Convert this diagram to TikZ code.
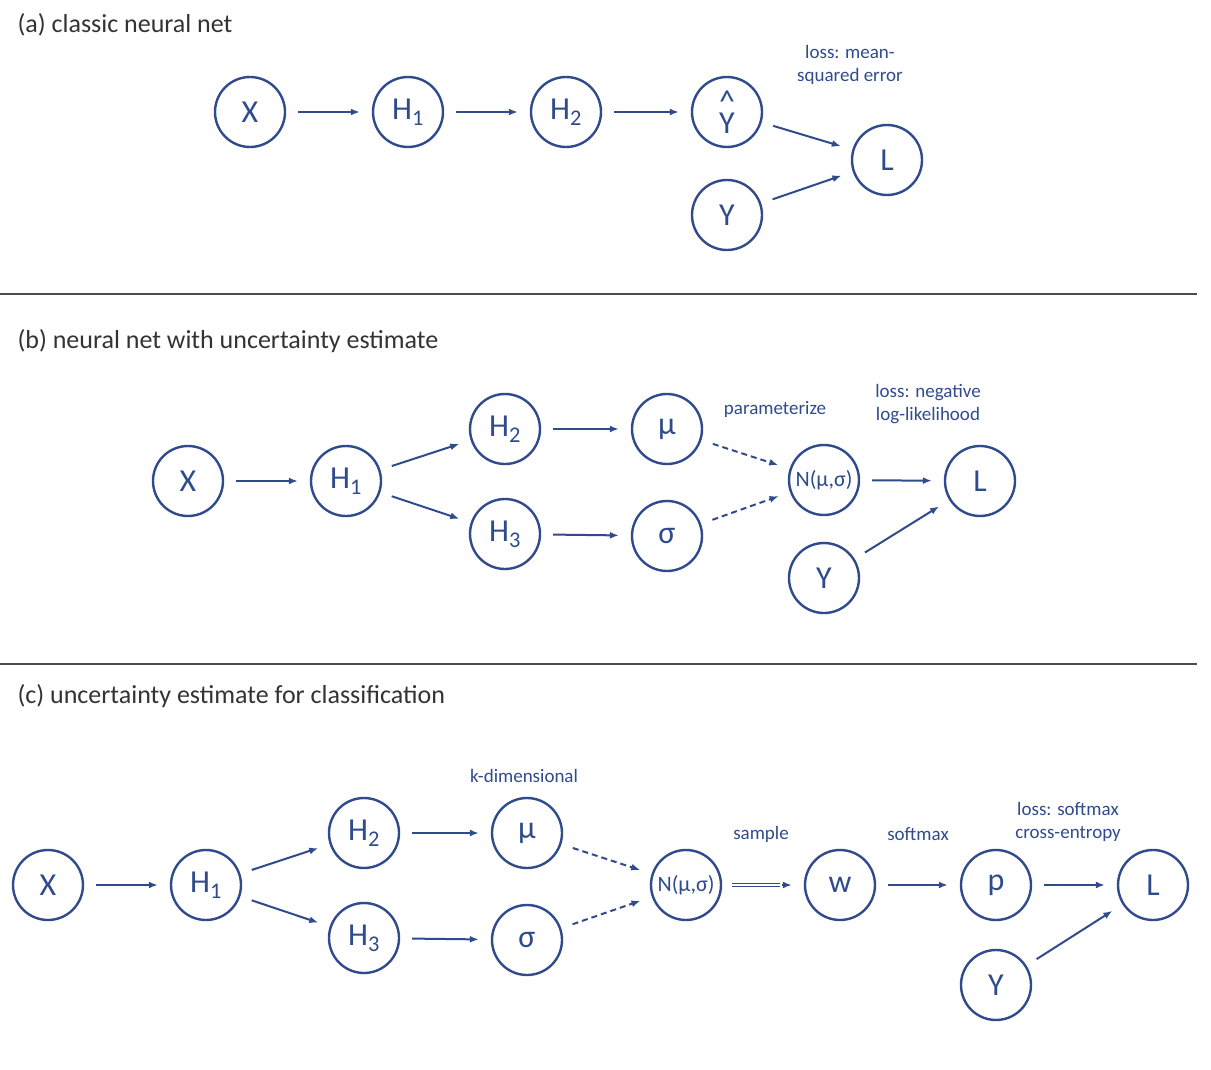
\documentclass[tikz,border=0pt]{standalone}
\usepackage{fontspec}
\setmainfont{Carlito}
\usetikzlibrary{arrows.meta}
\definecolor{nb}{HTML}{2F4B8C}
\begin{document}
\begin{tikzpicture}[x=1pt,y=-1pt,
 n/.style={circle,draw=nb,line width=2.4pt,minimum size=70pt,inner sep=0pt,text=nb,font=\fontsize{32}{32}\selectfont},
 a/.style={draw=nb,line width=2pt,-{Latex[length=9pt,width=7pt]},shorten <=12pt,shorten >=12pt},
 d/.style={a,dash pattern=on 6pt off 4pt},
 lab/.style={text=nb,font=\fontsize{19}{23}\selectfont,align=center},
 ttl/.style={anchor=west,text=black!80,font=\fontsize{26}{30}\selectfont},
 sep/.style={draw=black!70,line width=1.5pt}]
\useasboundingbox (0,0) rectangle (1211,1070);
% (a)
\node[ttl] (ta) at (14,25) {(a) classic neural net};
\node[n,align=center,font=\fontsize{32}{20}\selectfont] (aYh) at (727,112) {\char`\^\\Y};
\node[n] (aX) at (250,112) {X};
\node[n] (aH1) at (408,112) {H\textsubscript{1}};
\node[n] (aH2) at (566,112) {H\textsubscript{2}};
\node[n] (aY) at (727,215) {Y};
\node[n] (aL) at (887,160) {L};
\node[lab] (la) at (850,65) {loss: mean-\\squared error};
\draw[a] (aX)--(aH1); \draw[a] (aH1)--(aH2); \draw[a] (aH2)--(aYh);
\draw[a] (aYh)--(aL); \draw[a] (aY)--(aL);
\coordinate (s1a) at (0,294); \coordinate (s1b) at (1197,294);
\draw[sep] (s1a)--(s1b);
% (b)
\node[ttl] (tb) at (14,341) {(b) neural net with uncertainty estimate};
\node[n] (bX) at (188,481) {X};
\node[n] (bH1) at (346,481) {H\textsubscript{1}};
\node[n] (bH2) at (505,429) {H\textsubscript{2}};
\node[n] (bH3) at (505,534) {H\textsubscript{3}};
\node[n] (bmu) at (667,429) {μ};
\node[n] (bsg) at (667,536) {σ};
\node[n,font=\fontsize{22}{24}\selectfont] (bN) at (824,480) {N(μ,σ)};
\node[n] (bL) at (980,481) {L};
\node[n] (bY) at (824,578) {Y};
\node[lab] (lp) at (775,409) {parameterize};
\node[lab] (ln) at (928,404) {loss: negative\\log-likelihood};
\draw[a] (bX)--(bH1); \draw[a] (bH1)--(bH2); \draw[a] (bH1)--(bH3);
\draw[a] (bH2)--(bmu); \draw[a] (bH3)--(bsg);
\draw[d] (bmu)--(bN); \draw[d] (bsg)--(bN);
\draw[a] (bN)--(bL); \draw[a] (bY)--(bL);
\coordinate (s2a) at (0,664); \coordinate (s2b) at (1197,664);
\draw[sep] (s2a)--(s2b);
% (c)
\node[ttl] (tc) at (14,696) {(c) uncertainty estimate for classification};
\node[n] (cX) at (48,885) {X};
\node[n] (cH1) at (206,885) {H\textsubscript{1}};
\node[n] (cH2) at (364,833) {H\textsubscript{2}};
\node[n] (cH3) at (364,938) {H\textsubscript{3}};
\node[n] (cmu) at (527,833) {μ};
\node[n] (csg) at (527,940) {σ};
\node[n,font=\fontsize{22}{24}\selectfont] (cN) at (686,885) {N(μ,σ)};
\node[n] (cw) at (840,885) {w};
\node[n] (cp) at (996,885) {p};
\node[n] (cL) at (1153,885) {L};
\node[n] (cY) at (996,985) {Y};
\node[lab] (lk) at (524,776) {k-dimensional};
\node[lab] (ls) at (761,834) {sample};
\node[lab] (lsm) at (918,834) {softmax};
\node[lab] (lc) at (1068,822) {loss: softmax\\cross-entropy};
\draw[a] (cX)--(cH1); \draw[a] (cH1)--(cH2); \draw[a] (cH1)--(cH3);
\draw[a] (cH2)--(cmu); \draw[a] (cH3)--(csg);
\draw[d] (cmu)--(cN); \draw[d] (csg)--(cN);
\draw[nb,line width=1.2pt,double,double distance=2pt,shorten <=10pt,shorten >=24pt] (cN)--(cw);
\draw[a,shorten <=60pt] (cN)--(cw);
\draw[a] (cw)--(cp); \draw[a] (cp)--(cL); \draw[a] (cY)--(cL);
\end{tikzpicture}
\end{document}
